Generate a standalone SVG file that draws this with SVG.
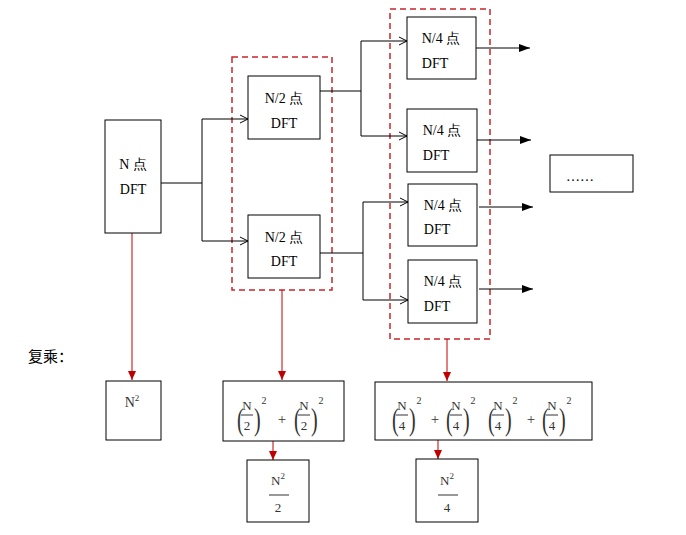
<svg xmlns="http://www.w3.org/2000/svg" width="686" height="535" viewBox="0 0 686 535">
<defs>
<marker id="oa" markerWidth="10" markerHeight="10" refX="9" refY="5" orient="auto" markerUnits="userSpaceOnUse"><path d="M1,1 L9,5 L1,9" fill="none" stroke="#000" stroke-width="1"/></marker>
<marker id="fa" markerWidth="12" markerHeight="10" refX="11" refY="5" orient="auto" markerUnits="userSpaceOnUse"><path d="M0,1 L11,5 L0,9 Z" fill="#000"/></marker>
<marker id="ra" markerWidth="10" markerHeight="10" refX="9" refY="5" orient="auto" markerUnits="userSpaceOnUse"><path d="M0,1 L9,5 L0,9 Z" fill="#c00000"/></marker>
<g id="f4"><text class="p" x="0" y="0" transform="translate(0,28) scale(1,1.6)">(</text><text class="m" x="10" y="8" font-size="13">N</text><line x1="4" y1="13" x2="16" y2="13" stroke="#333"/><text class="m" x="10" y="28" font-size="13">4</text><text class="p" x="0" y="0" transform="translate(17,28) scale(1,1.6)">)</text><text class="m" x="27" y="2" font-size="10">2</text></g>
<g id="f2"><text class="p" x="0" y="0" transform="translate(0,28) scale(1,1.6)">(</text><text class="m" x="10" y="8" font-size="13">N</text><line x1="4" y1="13" x2="16" y2="13" stroke="#333"/><text class="m" x="10" y="28" font-size="13">2</text><text class="p" x="0" y="0" transform="translate(17,28) scale(1,1.6)">)</text><text class="m" x="27" y="2" font-size="10">2</text></g>
</defs>
<style>
.b{fill:#fff;stroke:#000;stroke-width:1}
.d{fill:none;stroke:#c8262b;stroke-width:1.5;stroke-dasharray:6,4}
.t{font-family:"Liberation Serif","Times New Roman","DejaVu Serif",serif;font-size:14px;fill:#000;text-anchor:middle}
.m{font-family:"Liberation Serif","DejaVu Serif",serif;fill:#333;text-anchor:middle}
.p{font-family:"Liberation Serif","DejaVu Serif",serif;fill:#333;font-size:20px}
.l{stroke:#000;stroke-width:1;fill:none}
.r{stroke:#c00000;stroke-width:1;fill:none}
</style>
<rect width="686" height="535" fill="#fff"/>
<rect class="d" x="232" y="57" width="100" height="233"/>
<rect class="d" x="390" y="9" width="100" height="330"/>
<g id="connectors">
<path class="l" d="M161,183 H202 M202,119 V241"/>
<path class="l" d="M202,119 H248" marker-end="url(#oa)"/>
<path class="l" d="M202,241 H248" marker-end="url(#oa)"/>
<path class="l" d="M320,91 H361 M361,41 V136"/>
<path class="l" d="M361,41 H407" marker-end="url(#oa)"/>
<path class="l" d="M361,136 H407" marker-end="url(#oa)"/>
<path class="l" d="M320,253 H363 M363,202 V300"/>
<path class="l" d="M363,202 H408" marker-end="url(#oa)"/>
<path class="l" d="M363,300 H408" marker-end="url(#oa)"/>
<path class="l" d="M476,48 H530" marker-end="url(#fa)"/>
<path class="l" d="M477,140 H531" marker-end="url(#fa)"/>
<path class="l" d="M479,207 H533" marker-end="url(#fa)"/>
<path class="l" d="M479,289 H533" marker-end="url(#fa)"/>
<path class="r" d="M132,233 V380" marker-end="url(#ra)"/>
<path class="r" d="M282,290 V380" marker-end="url(#ra)"/>
<path class="r" d="M447,339 V381" marker-end="url(#ra)"/>
<path class="r" d="M273,441 V460" marker-end="url(#ra)"/>
<path class="r" d="M438,440 V459" marker-end="url(#ra)"/>
</g>
<g id="n_dft"><rect class="b" x="105" y="120" width="56" height="113"/><text class="t" x="133" y="169">N 点</text><text class="t" x="133" y="194">DFT</text></g>
<g id="n2_1"><rect class="b" x="248" y="76" width="72" height="63"/><text class="t" x="284" y="103">N/2 点</text><text class="t" x="284" y="128">DFT</text></g>
<g id="n2_2"><rect class="b" x="248" y="215" width="72" height="63"/><text class="t" x="284" y="242">N/2 点</text><text class="t" x="284" y="266">DFT</text></g>
<g id="n4_1"><rect class="b" x="407" y="17" width="69" height="62"/><text class="t" x="441" y="43">N/4 点</text><text class="t" x="435" y="68">DFT</text></g>
<g id="n4_2"><rect class="b" x="407" y="109" width="70" height="63"/><text class="t" x="442" y="135">N/4 点</text><text class="t" x="436" y="160">DFT</text></g>
<g id="n4_3"><rect class="b" x="408" y="184" width="69" height="62"/><text class="t" x="443" y="210">N/4 点</text><text class="t" x="437" y="234">DFT</text></g>
<g id="n4_4"><rect class="b" x="408" y="260" width="69" height="63"/><text class="t" x="443" y="286">N/4 点</text><text class="t" x="437" y="311">DFT</text></g>
<g id="dots"><rect class="b" x="550" y="155" width="83" height="37"/><text class="t" x="580" y="181">……</text></g>
<text x="28" y="362" style="font-family:'Noto Sans CJK SC',sans-serif;font-size:15px">复乘：</text>
<g id="c1"><rect class="b" x="106" y="381" width="55" height="59"/><text class="m" x="132" y="407" font-size="14">N<tspan font-size="9" dy="-6">2</tspan></text></g>
<g id="c2"><rect class="b" x="223" y="381" width="121" height="60"/>
<use href="#f2" x="237" y="402"/>
<text class="m" x="282" y="424" font-size="15">+</text>
<use href="#f2" x="294" y="402"/>
</g>
<g id="c3"><rect class="b" x="375" y="382" width="217" height="58"/>
<use href="#f4" x="392" y="402"/>
<text class="m" x="435" y="424" font-size="15">+</text>
<use href="#f4" x="446" y="402"/>
<use href="#f4" x="488" y="402"/>
<text class="m" x="531" y="424" font-size="15">+</text>
<use href="#f4" x="542" y="402"/>
</g>
<g id="c4"><rect class="b" x="247" y="460" width="62" height="62"/><text class="m" x="278" y="485" font-size="13">N<tspan font-size="9" dy="-6">2</tspan></text><line x1="269" y1="495" x2="289" y2="495" stroke="#333"/><text class="m" x="278" y="512" font-size="13">2</text></g>
<g id="c5"><rect class="b" x="416" y="459" width="62" height="63"/><text class="m" x="447" y="485" font-size="13">N<tspan font-size="9" dy="-6">2</tspan></text><line x1="438" y1="495" x2="458" y2="495" stroke="#333"/><text class="m" x="447" y="512" font-size="13">4</text></g>
</svg>
